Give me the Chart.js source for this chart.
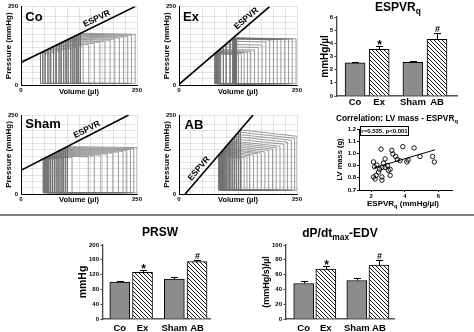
<!DOCTYPE html>
<html>
<head>
<meta charset="utf-8">
<script src="https://cdn.jsdelivr.net/npm/chart.js@4.4.0/dist/chart.umd.min.js"></script>
<style>
body { margin: 0; background: #fff; font-family: "Liberation Sans", Arial, sans-serif; }
#fig { position: relative; width: 474px; height: 332px; overflow: hidden; background: #fff; }
canvas { position: absolute; }
.lbl { position: absolute; font-weight: bold; color: #000; white-space: nowrap; line-height: 1; transform: translate(-50%, -50%); }
.lbl sub { font-size: 70%; vertical-align: -0.35em; line-height: 0; }
#sep { position: absolute; left: 0; top: 214px; width: 474px; height: 2px; background: #808080; }
#rbox { position: absolute; left: 360px; top: 126px; width: 47px; height: 8px; border: 1px solid #000; font: bold 6px "Liberation Sans", Arial, sans-serif; line-height: 8px; text-align: center; }
</style>
</head>
<body>
<div id="fig">
  <canvas id="pvCo" width="150" height="100" style="left:0;top:0"></canvas>
  <canvas id="pvEx" width="150" height="100" style="left:158px;top:0"></canvas>
  <canvas id="pvSham" width="150" height="108" style="left:0;top:100px"></canvas>
  <canvas id="pvAB" width="150" height="108" style="left:158px;top:100px"></canvas>
  <canvas id="espvrq" width="156" height="108" style="left:318px;top:0"></canvas>
  <canvas id="corr" width="142" height="98" style="left:332px;top:112px"></canvas>
  <canvas id="prsw" width="140" height="94" style="left:76px;top:238px"></canvas>
  <canvas id="dpdt" width="140" height="94" style="left:260px;top:238px"></canvas>

  <div class="lbl" style="left:34px;top:16px;font-size:13px">Co</div>
  <div class="lbl" style="left:191px;top:16px;font-size:13px">Ex</div>
  <div class="lbl" style="left:43px;top:123px;font-size:13px">Sham</div>
  <div class="lbl" style="left:194px;top:124px;font-size:13px">AB</div>
  <div class="lbl" style="left:398px;top:7px;font-size:12px">ESPVR<sub>q</sub></div>
  <div class="lbl" style="left:397px;top:118px;font-size:8.3px">Correlation: LV mass - ESPVR<sub>q</sub></div>
  <div id="rbox">r=0.535, p&lt;0.001</div>
  <div class="lbl" style="left:403px;top:204px;font-size:8px">ESPVR<sub>q</sub> (mmHg/µl)</div>
  <div id="sep"></div>
  <div class="lbl" style="left:160px;top:232px;font-size:12px">PRSW</div>
  <div class="lbl" style="left:340px;top:233px;font-size:12px">dP/dt<sub>max</sub>-EDV</div>
</div>
<script>
// PV loops, one entry per loop (volume in µl, pressure in mmHg)
const coEdv = [246, 238, 230, 221, 212, 202, 192, 181, 170, 158, 146, 134, 122, 110, 98, 86, 74, 62];
const coEsv = [128, 124, 120, 116, 112, 107, 102, 97, 92, 87, 82, 76, 70, 64, 58, 52, 47, 42];
const coEsp = [165, 162, 159, 156, 153, 149, 146, 142, 139, 135, 131, 127, 123, 118, 114, 110, 106, 102];
const coEspvr = [[0, 72], [246, 250]];

const exEdv = [248, 240, 232, 224, 216, 208, 200, 192, 184, 176, 168, 160, 152, 145, 138, 132, 126, 120];
const exEsv = [122, 120, 119, 118, 117, 116, 115, 114, 108, 100, 94, 88, 85, 83, 81, 79, 78, 76];
const exEsp = [150, 150, 149, 149, 148, 148, 147, 147, 140, 130, 122, 114, 110, 107, 105, 103, 101, 99];
const exEspvr = [[0, 2], [192, 250]];

const shamEdv = [250, 243, 236, 228, 220, 210, 198, 186, 172, 158, 145, 110, 100, 90, 80, 72, 64];
const shamEsv = [100, 96, 92, 88, 84, 80, 76, 72, 68, 64, 60, 58, 56, 54, 52, 50, 48];
const shamEsp = [150, 147, 144, 141, 138, 135, 132, 129, 126, 123, 120, 118, 117, 116, 114, 113, 111];
const shamEspvr = [[0, 75], [232, 250]];

const abEdv = [250, 245, 238, 230, 222, 214, 206, 198, 190, 182, 174, 166, 158, 150, 144, 138, 132];
const abEsv = [130, 126, 122, 118, 114, 110, 107, 104, 101, 98, 96, 94, 92, 90, 88, 86, 84];
const abEsp = [203, 196, 189, 182, 175, 168, 163, 158, 153, 148, 144, 141, 137, 134, 130, 127, 123];
const abEspvr = [[13, 0], [157, 250]];

// where the "ESPVR" word sits along each line (volume)
const espvrLabelAt = { co: 169, ex: 151, sham: 148, ab: 52 };

// bar panels
const groups = ['Co', 'Ex', 'Sham', 'AB'];
const barX = [1, 2, 3.4, 4.4];
const sigMarks = ['', '*', '', '#'];
const espvrqMean = [2.52, 3.55, 2.55, 4.31];
const espvrqErr = [0.08, 0.22, 0.08, 0.45];
const prswMean = [100, 126, 108, 155];
const prswErr = [2, 7, 6, 5];
const dpdtMean = [48, 67.5, 52, 73];
const dpdtErr = [3, 4, 3.5, 7];

// correlation LV mass vs ESPVRq
const corrX = [2.14, 2.59, 3.23, 3.29, 3.88, 4.55, 3.56, 3.46, 3.72, 4.12, 4.2, 4.9, 5.65, 5.75, 2.2, 2.34, 2.5, 2.64, 2.73, 2.83, 2.44, 2.3, 2.14, 2.24, 2.64, 2.64, 3.03, 3.13, 3.13, 2.83, 2.97];
const corrY = [0.93, 1.035, 1.025, 0.995, 1.055, 1.045, 0.95, 0.975, 0.94, 0.93, 0.945, 0.975, 0.975, 0.93, 0.89, 0.905, 0.87, 0.885, 0.92, 0.955, 0.847, 0.82, 0.807, 0.79, 0.807, 0.78, 0.86, 0.87, 0.82, 0.885, 0.9];
const fitX = [2.15, 5.8];
const fitY = [0.88, 1.03];

const FONT = '"Liberation Sans", Arial, sans-serif';
Chart.defaults.font.family = FONT;
Chart.defaults.color = '#000';
Chart.defaults.animation = false;

// ESPVR word drawn along the line
const espvrLabel = {
    id: 'espvrLabel',
    afterDatasetsDraw(chart, args, o) {
        const { ctx, scales: { x, y } } = chart;
        const [a, b] = o.line;
        const x1 = x.getPixelForValue(a[0]), y1 = y.getPixelForValue(a[1]);
        const x2 = x.getPixelForValue(b[0]), y2 = y.getPixelForValue(b[1]);
        const ang = Math.atan2(y2 - y1, x2 - x1);
        const t = (o.at - a[0]) / (b[0] - a[0]);
        const px = x1 + t * (x2 - x1), py = y1 + t * (y2 - y1);
        ctx.save();
        ctx.translate(px + Math.sin(ang) * 6, py - Math.cos(ang) * 6);
        ctx.rotate(ang);
        ctx.font = 'bold 8.5px ' + FONT;
        ctx.fillStyle = '#000';
        ctx.textAlign = 'center';
        ctx.textBaseline = 'middle';
        ctx.fillText('ESPVR', 0, 0);
        ctx.restore();
    }
};

function loopPoints(edv, esv, esp, edp, k) {
    return edv.map((v, i) => [
        { x: v, y: edp },
        { x: v, y: esp[i] * k },
        { x: esv[i], y: esp[i] },
        { x: esv[i], y: edp },
        { x: v, y: edp }
    ]);
}

function pvChart(id, edv, esv, esp, line, labelAt, edp, k, geo) {
    const loops = loopPoints(edv, esv, esp, edp, k).map(pts => ({
        data: pts, showLine: true, borderColor: '#707070', borderWidth: 0.7, pointRadius: 0, fill: false
    }));
    const espvr = {
        data: line.map(p => ({ x: p[0], y: p[1] })),
        showLine: true, borderColor: '#000', borderWidth: 1.6, pointRadius: 0
    };
    const tickFont = { size: 6, weight: 'bold' };
    new Chart(document.getElementById(id), {
        type: 'scatter',
        data: { datasets: [espvr, ...loops] },
        options: {
            responsive: false,
            events: [],
            layout: { padding: { top: geo.top, right: geo.right, left: 0, bottom: 0 } },
            plugins: { legend: { display: false }, tooltip: { enabled: false }, espvrLabel: { line: line, at: labelAt } },
            scales: {
                x: {
                    type: 'linear', min: 0, max: 250,
                    ticks: { stepSize: 25, autoSkip: false, maxRotation: 0, padding: 2, font: tickFont,
                        callback: v => (v === 0 || v === 250) ? String(v) : '' },
                    grid: { color: '#cfcfcf', lineWidth: 0.6, drawTicks: false },
                    border: { color: '#000', width: 1 },
                    title: { display: true, text: 'Volume (µl)', font: { size: 7.5, weight: 'bold' }, padding: { top: 0, bottom: 3.5 } },
                    afterFit: s => { s.height = geo.xh; }
                },
                y: {
                    type: 'linear', min: 0, max: 250,
                    ticks: { stepSize: 20, autoSkip: false, padding: 3, font: tickFont,
                        callback: v => (v === 0 || v === 250) ? String(v) : '' },
                    grid: { color: '#cfcfcf', lineWidth: 0.6, drawTicks: false },
                    border: { color: '#000', width: 1 },
                    title: { display: true, text: 'Pressure (mmHg)', font: { size: 8, weight: 'bold' }, padding: { top: 4.2, bottom: 0 } },
                    afterFit: s => { s.width = 21; }
                }
            }
        },
        plugins: [espvrLabel]
    });
}

pvChart('pvCo', coEdv, coEsv, coEsp, coEspvr, espvrLabelAt.co, 5, 0.98, { top: 6, right: 13, xh: 15 });
pvChart('pvEx', exEdv, exEsv, exEsp, exEspvr, espvrLabelAt.ex, 4, 0.98, { top: 6, right: 11, xh: 15 });
pvChart('pvSham', shamEdv, shamEsv, shamEsp, shamEspvr, espvrLabelAt.sham, 4, 0.98, { top: 15, right: 13, xh: 14 });
pvChart('pvAB', abEdv, abEsv, abEsp, abEspvr, espvrLabelAt.ab, 12, 0.9, { top: 15, right: 11, xh: 14 });

// hatch fill for Ex / AB bars
function hatch() {
    const c = document.createElement('canvas');
    c.width = 4; c.height = 4;
    const g = c.getContext('2d');
    g.fillStyle = '#fff';
    g.fillRect(0, 0, 4, 4);
    g.strokeStyle = '#000';
    g.lineWidth = 0.9;
    g.beginPath();
    g.moveTo(0, 0); g.lineTo(4, 4);
    g.moveTo(-1, 3); g.lineTo(1, 5);
    g.moveTo(3, -1); g.lineTo(5, 1);
    g.stroke();
    return g.createPattern(c, 'repeat');
}
const hatchFill = hatch();
const barFill = ['#8c8c8c', hatchFill, '#8c8c8c', hatchFill];

// error bars and significance marks
const errorBars = {
    id: 'errorBars',
    afterDatasetsDraw(chart, args, o) {
        const { ctx, scales: { x, y } } = chart;
        ctx.save();
        ctx.strokeStyle = '#000';
        ctx.lineWidth = 1;
        ctx.fillStyle = '#000';
        ctx.textAlign = 'center';
        ctx.textBaseline = 'alphabetic';
        o.errs.forEach((e, i) => {
            const px = Math.round(x.getPixelForValue(barX[i])) + 0.5;
            const base = y.getPixelForValue(o.vals[i]);
            const top = Math.round(y.getPixelForValue(o.vals[i] + e)) + 0.5;
            ctx.beginPath();
            ctx.moveTo(px, base);
            ctx.lineTo(px, top);
            ctx.moveTo(px - 3.5, top);
            ctx.lineTo(px + 3.5, top);
            ctx.stroke();
            if (sigMarks[i] === '*') {
                ctx.font = 'bold 12px ' + FONT;
                ctx.fillText('*', px, top + 2);
            } else if (sigMarks[i] === '#') {
                ctx.font = 'bold 9px ' + FONT;
                ctx.fillText('#', px, top - 2);
            }
        });
        ctx.restore();
    }
};

function barChart(id, vals, errs, yAxis, xr, yTitle, geo) {
    new Chart(document.getElementById(id), {
        type: 'bar',
        data: {
            datasets: [{
                data: vals.map((v, i) => ({ x: barX[i], y: v })),
                backgroundColor: barFill,
                borderColor: '#000',
                borderWidth: 1,
                barThickness: 20
            }]
        },
        options: {
            responsive: false,
            events: [],
            layout: { padding: { top: geo.top, right: geo.right, left: 0, bottom: 0 } },
            plugins: { legend: { display: false }, tooltip: { enabled: false }, errorBars: { vals: vals, errs: errs } },
            scales: {
                x: {
                    type: 'linear', min: xr[0], max: xr[1], offset: false,
                    afterBuildTicks: s => { s.ticks = barX.map(v => ({ value: v })); },
                    ticks: { autoSkip: false, maxRotation: 0, padding: geo.lp, font: { size: 9.5, weight: 'bold' },
                        callback: (v, i) => groups[i] },
                    grid: { display: false, drawTicks: false },
                    border: { color: '#555', width: 1.5 },
                    afterFit: s => { s.height = geo.xh; }
                },
                y: {
                    type: 'linear', min: 0, max: yAxis[0],
                    ticks: { stepSize: yAxis[1], padding: 1.5, font: { size: 6, weight: 'bold' } },
                    grid: { drawOnChartArea: false, drawTicks: true, tickLength: 2.5, color: '#444' },
                    border: { color: '#444', width: 1.3 },
                    title: { display: true, text: yTitle, font: { size: geo.tf, weight: 'bold' }, padding: { top: geo.tp, bottom: 0 } },
                    afterFit: s => { s.width = geo.yw; }
                }
            }
        },
        plugins: [errorBars]
    });
}

barChart('espvrq', espvrqMean, espvrqErr, [6, 1], [0.25, 5.23], 'mmHg/µl',
    { top: 17, right: 17, xh: 12, yw: 19, lp: 1, tf: 10, tp: 1 });
barChart('prsw', prswMean, prswErr, [200, 40], [0.26, 4.97], 'mmHg',
    { top: 7, right: 6, xh: 13, yw: 27, lp: 3.3, tf: 10.5, tp: 0.4 });
barChart('dpdt', dpdtMean, dpdtErr, [100, 20], [0.2, 5.08], '(mmHg/s)/µl',
    { top: 7, right: 6, xh: 13, yw: 26, lp: 3.3, tf: 9, tp: 1.6 });

// correlation scatter
new Chart(document.getElementById('corr'), {
    type: 'scatter',
    data: {
        datasets: [
            {
                data: fitX.map((v, i) => ({ x: v, y: fitY[i] })),
                showLine: true, borderColor: '#000', borderWidth: 1, pointRadius: 0
            },
            {
                data: corrX.map((v, i) => ({ x: v, y: corrY[i] })),
                pointRadius: 2.2, pointBorderWidth: 0.9, borderColor: '#000', backgroundColor: 'rgba(255,255,255,0)'
            }
        ]
    },
    options: {
        responsive: false,
        events: [],
        layout: { padding: { top: 17, right: 22, left: 0, bottom: 0 } },
        plugins: { legend: { display: false }, tooltip: { enabled: false } },
        scales: {
            x: {
                type: 'linear', min: 1.28, max: 6.8,
                afterBuildTicks: s => { s.ticks = [2, 4, 6].map(v => ({ value: v })); },
                ticks: { autoSkip: false, maxRotation: 0, padding: 0.5, font: { size: 6, weight: 'bold' } },
                grid: { drawOnChartArea: false, drawTicks: true, tickLength: 2, color: '#000' },
                border: { color: '#000', width: 1 },
                afterFit: s => { s.height = 20; }
            },
            y: {
                type: 'linear', min: 0.7, max: 1.2,
                ticks: { stepSize: 0.1, padding: 1, font: { size: 6, weight: 'bold' }, callback: v => v.toFixed(1) },
                grid: { drawOnChartArea: false, drawTicks: true, tickLength: 2, color: '#000' },
                border: { color: '#000', width: 1 },
                title: { display: true, text: 'LV mass (g)', font: { size: 7.5, weight: 'bold' }, padding: { top: 3.9, bottom: 0 } },
                afterFit: s => { s.width = 27; }
            }
        }
    }
});
</script>
</body>
</html>
